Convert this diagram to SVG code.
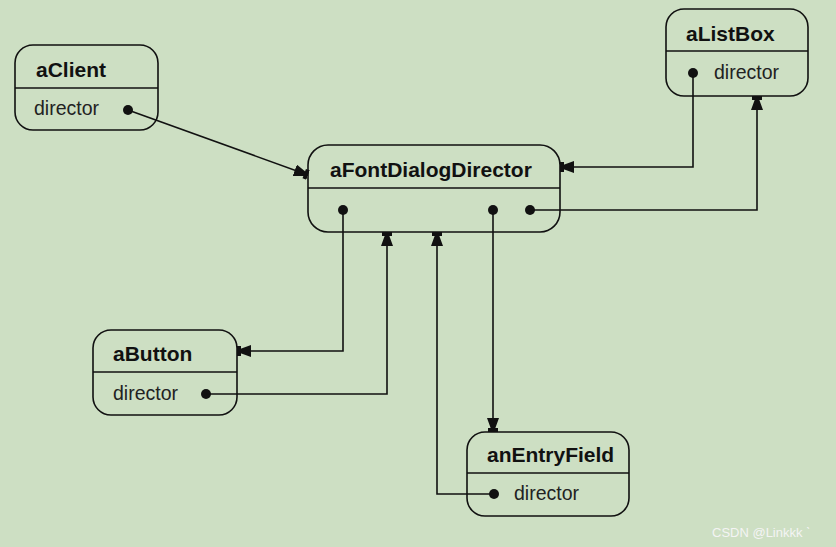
<svg xmlns="http://www.w3.org/2000/svg" width="836" height="547" viewBox="0 0 836 547">
<style>
.box{fill:none;stroke:#111;stroke-width:1.6}
.t{font-family:"Liberation Sans",Arial,sans-serif;font-size:21px;font-weight:bold;fill:#111}
.a{font-family:"Liberation Sans",Arial,sans-serif;font-size:19.5px;fill:#222}
.c{fill:none;stroke:#111;stroke-width:1.6}
.d{fill:#111}
</style>
<defs>
<marker id="ar" viewBox="0 0 14 12" refX="14" refY="6" markerWidth="14" markerHeight="12" markerUnits="userSpaceOnUse" orient="auto">
<path d="M0,0 L11,4 L11,8 L0,12 Z M10,1 L14,1 L14,11 L10,11 Z" fill="#111"/>
</marker>
</defs>
<rect width="836" height="547" fill="#cddfc3"/>
<g id="aClient">
<rect class="box" x="15" y="45" width="143" height="85" rx="18"/>
<line class="box" x1="15" y1="88" x2="158" y2="88"/>
<text class="t" x="36" y="77">aClient</text>
<text class="a" x="34" y="115">director</text>
<circle class="d" cx="128" cy="110" r="5"/>
</g>
<g id="aFontDialogDirector">
<rect class="box" x="308" y="145" width="252" height="87" rx="20"/>
<line class="box" x1="308" y1="188" x2="560" y2="188"/>
<text class="t" x="330" y="177">aFontDialogDirector</text>
<circle class="d" cx="343" cy="210" r="5"/>
<circle class="d" cx="493" cy="210" r="5"/>
<circle class="d" cx="530" cy="210" r="5"/>
</g>
<g id="aListBox">
<rect class="box" x="666" y="9" width="142" height="87" rx="18"/>
<line class="box" x1="666" y1="51" x2="808" y2="51"/>
<text class="t" x="686" y="41">aListBox</text>
<text class="a" x="714" y="79">director</text>
<circle class="d" cx="693" cy="73" r="5"/>
</g>
<g id="aButton">
<rect class="box" x="93" y="330" width="144" height="85" rx="18"/>
<line class="box" x1="93" y1="372" x2="237" y2="372"/>
<text class="t" x="113" y="361">aButton</text>
<text class="a" x="113" y="400">director</text>
<circle class="d" cx="206" cy="394" r="5"/>
</g>
<g id="anEntryField">
<rect class="box" x="467" y="432" width="162" height="84" rx="18"/>
<line class="box" x1="467" y1="473" x2="629" y2="473"/>
<text class="t" x="487" y="462">anEntryField</text>
<text class="a" x="514" y="500">director</text>
<circle class="d" cx="494" cy="494" r="5"/>
</g>
<g id="connectors">
<path class="c" d="M128,110 L308,175" marker-end="url(#ar)"/>
<path class="c" d="M693,73 V167 H560" marker-end="url(#ar)"/>
<path class="c" d="M530,210 H757 V96" marker-end="url(#ar)"/>
<path class="c" d="M343,210 V351 H237" marker-end="url(#ar)"/>
<path class="c" d="M206,394 H387 V232" marker-end="url(#ar)"/>
<path class="c" d="M494,494 H437 V232" marker-end="url(#ar)"/>
<path class="c" d="M493,210 V432" marker-end="url(#ar)"/>
</g>
<text x="712" y="537" font-family="'Liberation Sans',Arial,sans-serif" font-size="13" fill="#f4f4f4">CSDN @Linkkk ˋ</text>
</svg>
